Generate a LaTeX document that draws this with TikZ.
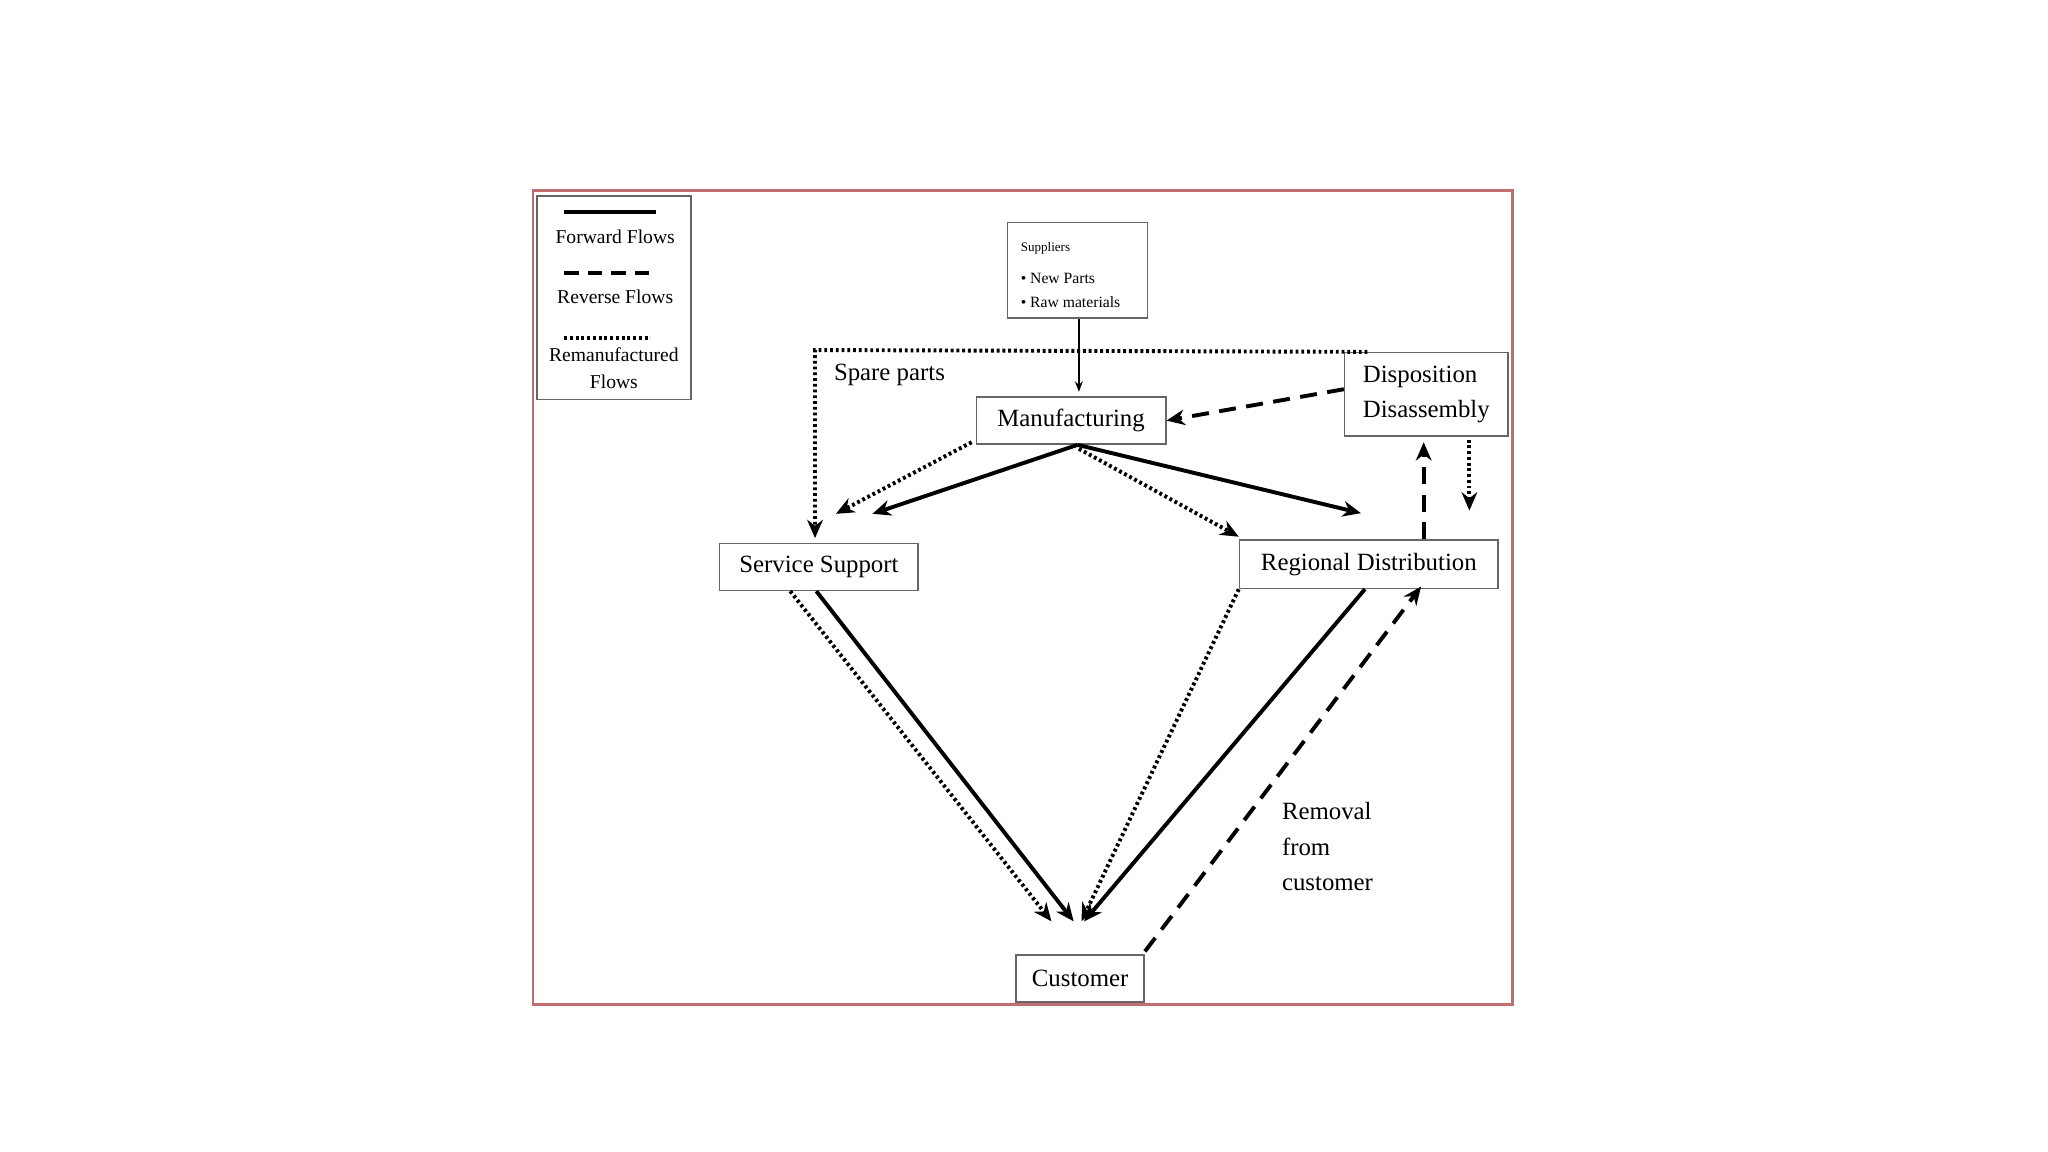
\documentclass[tikz,border=0pt]{standalone}
\usepackage{fontspec}
\setmainfont{Liberation Serif}
\usetikzlibrary{arrows.meta,calc}
\begin{document}
\begin{tikzpicture}[x=1pt,y=-1pt,
  box/.style={draw=black!60,line width=1.2pt,fill=white,inner sep=0pt,font=\fontsize{19}{22}\selectfont},
  tip/.style={-{Stealth[length=14pt,width=12pt]}},
  fwd/.style={line width=3pt,tip},
  rev/.style={line width=3pt,dash pattern=on 13pt off 8pt,tip},
  rem/.style={line width=3pt,dash pattern=on 2.2pt off 2.2pt,tip}]
\useasboundingbox (0,0) rectangle (1568,882);
\fill[white] (0,0) rectangle (1568,882);
\draw[draw={rgb,255:red,190;green,110;blue,110},line width=2pt] (408,146) rectangle (1158,769);
% legend
\node[box,minimum width=118pt,minimum height=156pt] (leg) at (470,228) {};
\draw[line width=3pt] (432,162) -- (502,162);
\node (lf) at (471,181) {\fontsize{15}{17}\selectfont Forward Flows};
\draw[line width=3pt,dash pattern=on 11pt off 7pt] (432,209) -- (500,209);
\node (lr) at (471,227) {\fontsize{15}{17}\selectfont Reverse Flows};
\draw[line width=3pt,dash pattern=on 2.2pt off 2.2pt] (432,259) -- (498,259);
\node[align=center,font=\fontsize{15}{21}\selectfont] (lm) at (470,282) {Remanufactured\\Flows};
% nodes
\node[box,minimum width=107pt,minimum height=73pt] (sup) at (825,207) {};
\node[anchor=west] (supt) at (778,190) {Suppliers};
\node[anchor=west,font=\fontsize{12}{14}\selectfont] (sup1) at (778,213) {• New Parts};
\node[anchor=west,font=\fontsize{12}{14}\selectfont] (sup2) at (778,231) {• Raw materials};
\node[box,minimum width=145pt,minimum height=36pt] (man) at (820,322) {Manufacturing};
\node[box,minimum width=125pt,minimum height=64pt,align=left,font=\fontsize{19}{27}\selectfont] (dis) at (1092,302) {Disposition\\Disassembly};
\node[box,minimum width=152pt,minimum height=36pt] (ser) at (627,434) {Service Support};
\node[box,minimum width=198pt,minimum height=37pt] (reg) at (1048,432) {Regional Distribution};
\node[box,minimum width=98pt,minimum height=36pt] (cus) at (827,749) {Customer};
\node[font=\fontsize{19}{22}\selectfont] (sp) at (681,287) {Spare parts};
\node[anchor=north west,align=left,font=\fontsize{19}{27}\selectfont] (rm) at (978,611) {Removal\\from\\customer};
% connectors
\draw[line width=1.2pt,-{Stealth[length=8pt,width=6pt]}] (sup.south -| 826,0) -- (826,300) coordinate (mt);
\draw[rev] ($(dis.west)+(0,-4)$) -- (man.east);
\draw[rem] ($(dis.north west)+(18,0)$) -- (624,268) -- (624,412) coordinate (st);
\draw[fwd] ($(man.south)+(5,0)$) -- ($(ser.north)+(41,-22)$);
\draw[fwd] ($(man.south)+(5,0)$) -- ($(reg.north)+(-6,-20)$);
\draw[rem] ($(man.south west)+(-3,-2)$) -- ($(ser.north)+(13,-22)$);
\draw[rem] ($(man.south)+(6,3)$) -- ($(reg.north west)+(0,-2)$);
\draw[rev] ($(reg.north)+(42,0)$) -- ($(dis.south)+(-2,4)$);
\draw[rem] ($(dis.south)+(33,2)$) -- ($(reg.north)+(77,-22)$);
\draw[fwd] ($(ser.south)+(-2,0)$) -- ($(cus.north)+(-5,-25)$);
\draw[fwd] ($(reg.south)+(-3,0)$) -- ($(cus.north)+(3,-25)$);
\draw[rem] ($(ser.south)+(-22,0)$) -- ($(cus.north)+(-22,-25)$);
\draw[rem] ($(reg.south west)+(0,0)$) -- ($(cus.north)+(1,-25)$);
\draw[rev] ($(cus.north east)+(0,-2)$) -- ($(reg.south)+(40,-2)$);
\end{tikzpicture}
\end{document}
